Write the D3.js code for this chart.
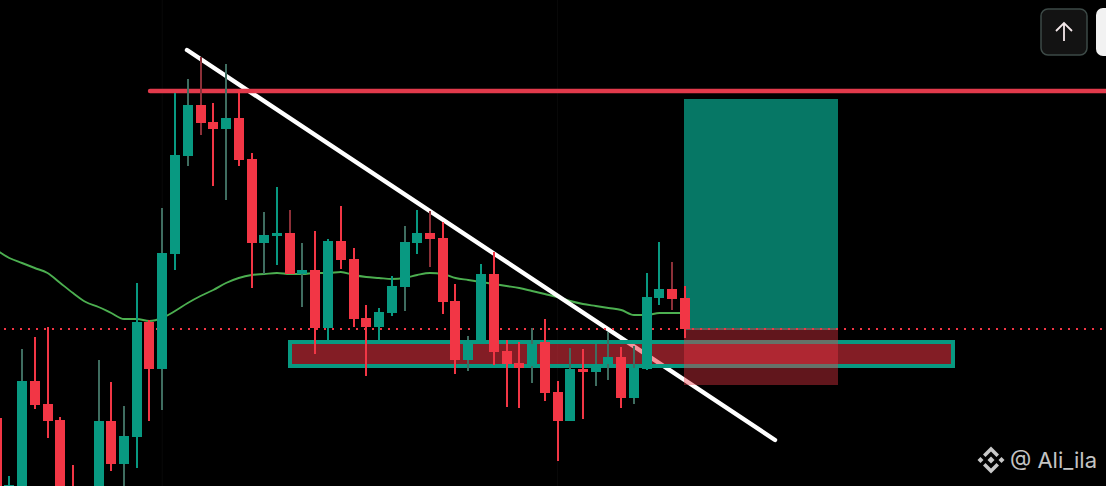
<!DOCTYPE html>
<html>
<head>
<meta charset="utf-8">
<script src="https://cdnjs.cloudflare.com/ajax/libs/d3/7.8.5/d3.min.js"></script>
<style>
html,body{margin:0;padding:0;background:#000;overflow:hidden}
svg{display:block}
</style>
</head>
<body>
<svg id="chart" width="1106" height="486"></svg>
<script>
///--------------------Data (levels, no price axis is shown: small = high on screen)
var opens  = [418,500,500,381,404,420,495,530,500,421,464,437,322,369,254,156,105,122,129,118,159,243,236,233,274,270,328,241,259,318,327,313,287,243,233,238,301,360,342,274,351,363,366,342,392,421,369,372,364,357,398,369,298,289,298];
var closes = [500,485,381,405,421,510,520,505,421,464,436,322,369,253,155,105,123,129,118,160,243,235,233,274,270,328,241,260,319,327,312,286,242,233,239,302,360,340,274,352,364,368,344,393,421,369,372,364,357,398,368,297,289,299,329];
var highs  = [417,476,349,337,327,417,465,495,360,382,406,283,320,208, 93, 79, 57,103, 64, 90,153,212,187,210,243,231,239,206,248,305,308,276,226,210,211,222,284,336,264,252,340,342,328,319,381,348,349,344,332,347,346,273,242,262,286];
var lows   = [510,510,510,409,438,520,530,535,520,471,500,468,421,410,270,166,135,186,200,166,288,274,265,274,307,354,342,269,327,376,342,316,311,254,267,314,374,371,342,365,407,408,383,401,461,421,419,386,380,408,404,370,305,310,338];
var maLine = [250,258,263,268,273,283,293,302,307,313,319,319,321,318,311,303,296,290,283,278,275,274,273,274,274,273,273,272,275,277,278,279,278,275,273,274,278,280,282,284,286,288,291,294,297,301,304,306,308,310,315,315,313,313,313];

var trendLine = [[187,50],[775,440]];
var resistance = 91;
var lastPrice = 329;
var target = {left:684,right:838,top:99,entry:330};
var stop = {left:684,right:838,entry:328,bottom:385};
var zone = {left:290,right:953,top:342,bottom:366};

///--------------------Styles
var green="#089981", red="#f23645", greenDim="#3f6d60", redDim="#8c3038";
var dimWicks = [2,8,10,13,15,16,18,21,23,24,32,34,37,42,45,47,48,50,53];
var bodyW = 10, wickW = 2;

///--------------------Scales
var x = d3.scaleLinear().domain([0,54]).range([-3.5,685]);
var y = d3.scaleLinear().domain([0,486]).range([0,486]);

var svg = d3.select("#chart");
svg.append("rect").attr("width",1106).attr("height",486).attr("fill","#000");

// faint grid
svg.append("g").selectAll("line").data([13,44]).join("line")
	.attr("x1",function(d){return x(d)}).attr("x2",function(d){return x(d)})
	.attr("y1",0).attr("y2",486)
	.attr("stroke","#080808");

// moving average
var line = d3.line().x(function(d,i){return x(i)}).y(function(d){return y(d)}).curve(d3.curveMonotoneX);
svg.append("path").datum(maLine)
	.attr("d",line)
	.attr("fill","none")
	.attr("stroke","#4caf50")
	.attr("stroke-width",1.9);

// trend line
svg.append("line")
	.attr("x1",trendLine[0][0]).attr("y1",y(trendLine[0][1]))
	.attr("x2",trendLine[1][0]).attr("y2",y(trendLine[1][1]))
	.attr("stroke","#fff")
	.attr("stroke-width",4.4)
	.attr("stroke-linecap","round");

// long position boxes
svg.append("rect")
	.attr("x",target.left).attr("y",y(target.top))
	.attr("width",target.right-target.left).attr("height",y(target.entry)-y(target.top))
	.attr("fill",green).attr("fill-opacity",0.78);
svg.append("rect")
	.attr("x",zone.left).attr("y",y(zone.top))
	.attr("width",zone.right-zone.left).attr("height",y(zone.bottom)-y(zone.top))
	.attr("fill","#f23645").attr("fill-opacity",0.54)
	.attr("stroke",green).attr("stroke-width",4);
svg.append("rect")
	.attr("x",stop.left).attr("y",y(stop.entry))
	.attr("width",stop.right-stop.left).attr("height",y(stop.bottom)-y(stop.entry))
	.attr("fill",red).attr("fill-opacity",0.4);

// resistance
svg.append("line")
	.attr("x1",150).attr("x2",1106)
	.attr("y1",y(resistance)).attr("y2",y(resistance))
	.attr("stroke","#e23a4b")
	.attr("stroke-width",4.4)
	.attr("stroke-linecap","round");

// last price dotted line
svg.append("line")
	.attr("x1",4).attr("x2",1106)
	.attr("y1",y(lastPrice)).attr("y2",y(lastPrice))
	.attr("stroke",red)
	.attr("stroke-width",2)
	.attr("stroke-dasharray","2 6");

// candles
var candles = svg.append("g").selectAll("g").data(opens).join("g");
candles.append("rect")
	.attr("x",function(d,i){return Math.round(x(i)-wickW/2)})
	.attr("width",wickW)
	.attr("y",function(d,i){return y(highs[i])})
	.attr("height",function(d,i){return y(lows[i])-y(highs[i])})
	.attr("fill",function(d,i){
		var up = closes[i]<opens[i];
		if(dimWicks.indexOf(i)>=0){
			return up?greenDim:redDim;
		}
		return up?green:red;
	});
candles.append("rect")
	.attr("x",function(d,i){return Math.round(x(i)-bodyW/2)})
	.attr("width",bodyW)
	.attr("y",function(d,i){return y(Math.min(opens[i],closes[i]))})
	.attr("height",function(d,i){return Math.abs(y(opens[i])-y(closes[i]))})
	.attr("fill",function(d,i){return closes[i]<opens[i]?green:red});

// top right buttons
svg.append("rect")
	.attr("x",1041).attr("y",9).attr("width",46).attr("height",46).attr("rx",7)
	.attr("fill","#131313").attr("stroke","#3d4a47").attr("stroke-width",1.5);
svg.append("path")
	.attr("d","M1064 41V23M1056 31L1064 23L1072 31")
	.attr("fill","none").attr("stroke","#f4e8ea").attr("stroke-width",1.8);
svg.append("rect")
	.attr("x",1096).attr("y",8).attr("width",30).attr("height",48).attr("rx",7)
	.attr("fill","#f2f2f2");

// watermark
var logo = svg.append("g").attr("transform","translate(991,460)").attr("fill","#c8c8c8");
logo.append("path").attr("d","M0 -3.5L3.5 0L0 3.5L-3.5 0Z");
logo.append("path").attr("d","M-13.5 0L-10.5 -3L-7.5 0L-10.5 3Z");
logo.append("path").attr("d","M13.5 0L10.5 -3L7.5 0L10.5 3Z");
logo.append("path").attr("d","M0 -13.5L8 -5.5L5.5 -3L0 -8.5L-5.5 -3L-8 -5.5Z");
logo.append("path").attr("d","M0 13.5L8 5.5L5.5 3L0 8.5L-5.5 3L-8 5.5Z");
svg.append("text")
	.attr("x",1010).attr("y",468)
	.attr("font-family","Inter, 'Noto Sans', sans-serif")
	.attr("font-size",22)
	.attr("fill","#c4c4c4")
	.text("@ Ali_ila");
</script>
</body>
</html>
